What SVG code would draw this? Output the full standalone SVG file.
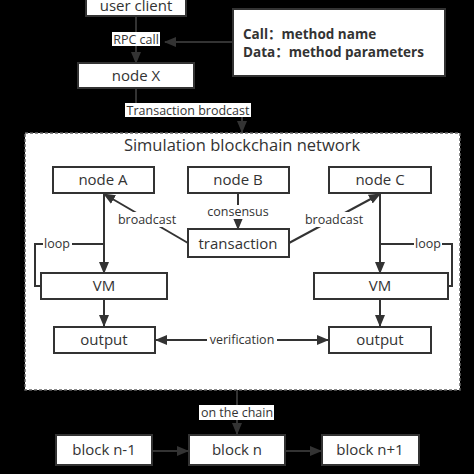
<svg xmlns="http://www.w3.org/2000/svg" width="474" height="474" viewBox="0 0 474 474">
<defs>
<marker id="ah" markerUnits="userSpaceOnUse" markerWidth="12" markerHeight="12" viewBox="0 0 12 12" refX="11" refY="6" orient="auto-start-reverse">
<path d="M0,1 L12,6 L0,11 Z" fill="#333"/>
</marker>
<style>
.box{fill:#fff;stroke:#333;stroke-width:2}
.t{font-family:"Open Sans","Noto Sans","DejaVu Sans",sans-serif;font-size:15px;fill:#333;text-anchor:middle}
.lb{font-family:"Open Sans","Noto Sans","DejaVu Sans",sans-serif;font-size:12.5px;fill:#333;text-anchor:middle}
.nt{font-family:"Open Sans","Noto Sans CJK SC",sans-serif;font-size:13.5px;font-weight:bold;fill:#333}
.bg{fill:#fff}
.ln{fill:none;stroke:#333;stroke-width:2}
.ar{fill:none;stroke:#333;stroke-width:2;marker-end:url(#ah)}
</style>
</defs>
<rect width="474" height="474" fill="#000"/>
<g id="network">
<rect x="25" y="133" width="435" height="257" fill="#fff" stroke="#666" stroke-width="1.5" stroke-dasharray="3,2"/>
<text class="t" x="242" y="151" style="font-size:16.5px">Simulation blockchain network</text>
</g>
<g id="connectors">
<path class="ar" d="M136,16 V63"/>
<path class="ar" d="M233,42 H165"/>
<path class="ar" d="M136,88 V110 H242 V132"/>
<path class="ar" d="M238,193 V229"/>
<path class="ar" d="M188,243 L104,194"/>
<path class="ar" d="M289,243 L380,194"/>
<path class="ar" d="M104,193 V273"/>
<path class="ar" d="M380,193 V273"/>
<path class="ln" d="M41,286 H35 V244 H104"/>
<path class="ln" d="M448,286 H452 V244 H380"/>
<path class="ar" d="M104,299 V326"/>
<path class="ar" d="M380,299 V326"/>
<path class="ar" d="M156,340 H328" style="marker-start:url(#ah)"/>
<path class="ar" d="M237,390 V434"/>
<path class="ar" d="M152,451 H188"/>
<path class="ar" d="M285,451 H321"/>
<rect class="bg" x="112" y="32" width="48" height="14"/>
<text class="lb" x="136" y="44">RPC call</text>
<rect class="bg" x="125" y="103" width="126" height="14"/>
<text class="lb" x="188" y="115">Transaction brodcast</text>
<rect class="bg" x="211" y="205" width="54" height="14"/>
<text class="lb" x="238" y="216">consensus</text>
<rect class="bg" x="116" y="212" width="62" height="15"/>
<text class="lb" x="147" y="224">broadcast</text>
<rect class="bg" x="303" y="212" width="62" height="15"/>
<text class="lb" x="334" y="224">broadcast</text>
<rect class="bg" x="43" y="238" width="29" height="12"/>
<text class="lb" x="57" y="248">loop</text>
<rect class="bg" x="414" y="238" width="28" height="12"/>
<text class="lb" x="428" y="248">loop</text>
<rect class="bg" x="207" y="333" width="70" height="14"/>
<text class="lb" x="242" y="344">verification</text>
<rect class="bg" x="199" y="405" width="75" height="15"/>
<text class="lb" x="237" y="417">on the chain</text>
</g>
<g id="user-client"><rect class="box" x="86" y="-10" width="100" height="26"/><text class="t" x="136" y="11">user client</text></g>
<g id="call-note"><rect class="box" x="233" y="9" width="212" height="67"/>
<text class="nt" x="243" y="39">Call：method name</text>
<text class="nt" x="243" y="57">Data：method parameters</text></g>
<g id="node-x"><rect class="box" x="78" y="63" width="116" height="25"/><text class="t" x="136" y="81">node X</text></g>
<g id="node-a"><rect class="box" x="53" y="167" width="101" height="26"/><text class="t" x="103" y="185">node A</text></g>
<g id="node-b"><rect class="box" x="188" y="167" width="101" height="26"/><text class="t" x="238" y="185">node B</text></g>
<g id="node-c"><rect class="box" x="329" y="167" width="102" height="26"/><text class="t" x="380" y="185">node C</text></g>
<g id="transaction"><rect class="box" x="188" y="229" width="101" height="28"/><text class="t" x="238" y="249">transaction</text></g>
<g id="vm-left"><rect class="box" x="41" y="273" width="126" height="26"/><text class="t" x="104" y="291">VM</text></g>
<g id="vm-right"><rect class="box" x="314" y="273" width="134" height="26"/><text class="t" x="380" y="291">VM</text></g>
<g id="output-left"><rect class="box" x="54" y="327" width="101" height="26"/><text class="t" x="104" y="345">output</text></g>
<g id="output-right"><rect class="box" x="329" y="327" width="102" height="26"/><text class="t" x="380" y="345">output</text></g>
<g id="block-n-1"><rect class="box" x="56" y="435" width="96" height="30"/><text class="t" x="104" y="455">block n-1</text></g>
<g id="block-n"><rect class="box" x="189" y="435" width="96" height="30"/><text class="t" x="237" y="455">block n</text></g>
<g id="block-n+1"><rect class="box" x="322" y="435" width="97" height="30"/><text class="t" x="370" y="455">block n+1</text></g>
</svg>
